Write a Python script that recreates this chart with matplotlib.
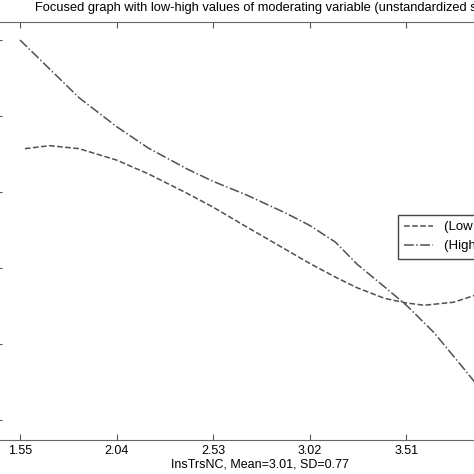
import matplotlib.pyplot as plt
import matplotlib as mpl

mpl.rcParams["font.family"] = ["Liberation Sans", "DejaVu Sans"]

# values
x_high = [1.55, 1.70, 1.85, 2.04, 2.20, 2.40, 2.53, 2.70, 2.90, 3.02, 3.15, 3.26, 3.40, 3.51, 3.65, 3.80, 3.95]
y_high = [5.00, 4.62, 4.24, 3.86, 3.58, 3.30, 3.14, 2.96, 2.72, 2.56, 2.34, 2.05, 1.75, 1.51, 1.15, 0.68, 0.20]
x_low = [1.575, 1.70, 1.85, 2.04, 2.20, 2.40, 2.53, 2.70, 2.90, 3.02, 3.15, 3.26, 3.40, 3.51, 3.60, 3.75, 3.95]
y_low = [3.57, 3.61, 3.57, 3.42, 3.24, 2.98, 2.80, 2.54, 2.24, 2.06, 1.88, 1.74, 1.60, 1.54, 1.51, 1.55, 1.72]
x_ticks = [1.55, 2.04, 2.53, 3.02, 3.51, 4.00]
y_ticks = [0, 1, 2, 3, 4, 5]

W = H = 474
fig = plt.figure(figsize=(4.74, 4.74), dpi=100)
# axes extend beyond the cropped picture on the left and right
x0, x1 = 1.43, 4.10
px_per = 96.6 / 0.49
left_px = 20 - (1.55 - x0) * px_per
right_px = 20 + (x1 - 1.55) * px_per
ax = fig.add_axes([left_px / W, 1 - 440 / H, (right_px - left_px) / W, (440 - 22) / H])
ax.plot(x_low, y_low, linestyle="--", color="#505050", lw=1.1, label="(Low InsTrsNC)")
ax.plot(x_high, y_high, linestyle="-.", color="#505050", lw=1.1, label="(High InsTrsNC)")
ax.set_xlim(x0, x1)
ax.set_ylim(-0.263, 5.237)
ax.set_xticks(x_ticks)
ax.set_xticklabels([f"{v:.2f}" for v in x_ticks], fontsize=9)
ax.set_yticks(y_ticks)
ax.set_yticklabels([])
ax.tick_params(direction="in", top=True, right=True, length=4, color="#555555")
for s in ax.spines.values():
    s.set_color("#666666")
ax.set_xlabel("InsTrsNC, Mean=3.01, SD=0.77", fontsize=9, labelpad=1)

fig.text(35 / W, 1 - 8 / H, "Focused graph with low-high values of moderating variable (unstandardized scale)",
         fontsize=9.3, va="center", ha="left")

ax.legend(loc="upper left", bbox_to_anchor=(391 / W, 1 - 208 / H), bbox_transform=fig.transFigure,
          fontsize=9.5, fancybox=False, edgecolor="#444444", handlelength=2.2, borderpad=0.5,
          labelspacing=0.5, framealpha=1)

fig.savefig("out.png", dpi=100)
